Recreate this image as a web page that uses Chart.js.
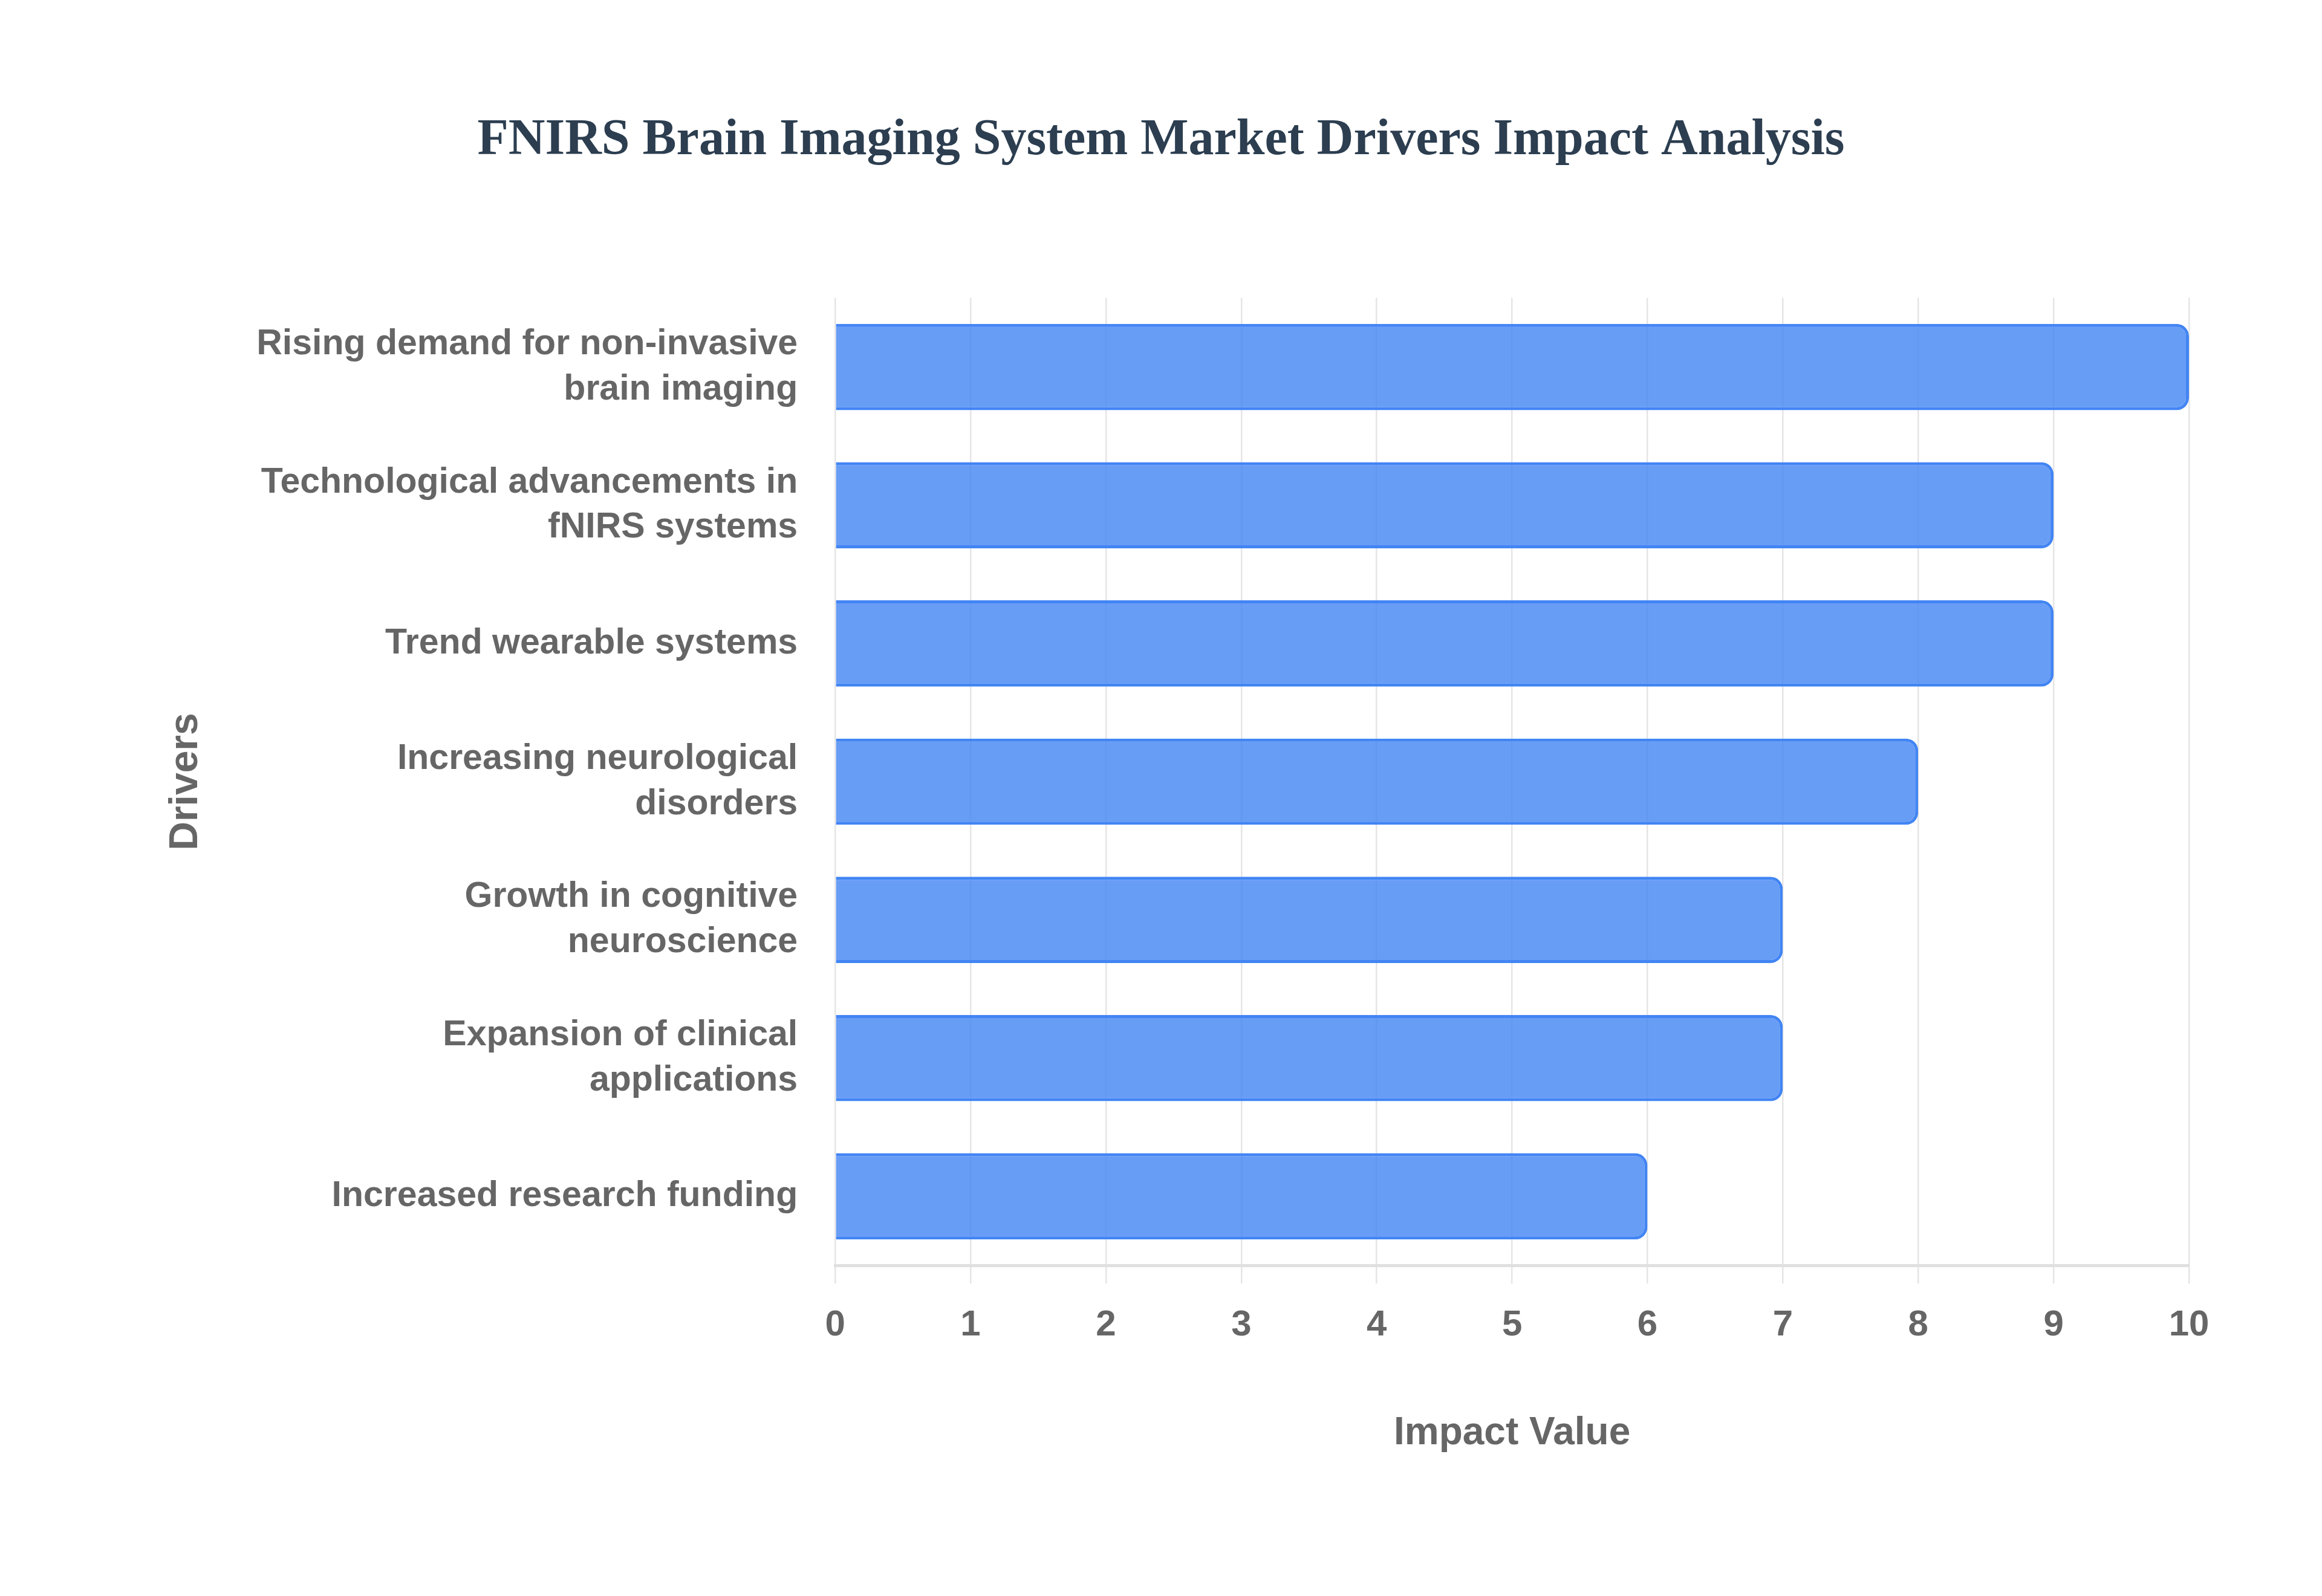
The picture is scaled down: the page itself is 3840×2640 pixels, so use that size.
<!DOCTYPE html>
<html>
<head>
<meta charset="utf-8">
<script src="https://cdn.jsdelivr.net/npm/chart.js@4.4.0/dist/chart.umd.min.js"></script>
<style>
  html, body { margin: 0; padding: 0; background: #ffffff; }
  #wrap { width: 3840px; height: 2640px; }
</style>
</head>
<body>
<div id="wrap"><canvas id="c" width="3840" height="2640"></canvas></div>
<script>
const chartTitle = "FNIRS Brain Imaging System Market Drivers Impact Analysis";
const categories = [
  ["Rising demand for non-invasive", "brain imaging"],
  ["Technological advancements in", "fNIRS systems"],
  "Trend wearable systems",
  ["Increasing neurological", "disorders"],
  ["Growth in cognitive", "neuroscience"],
  ["Expansion of clinical", "applications"],
  "Increased research funding"
];
const impactValues = [10, 9, 9, 8, 7, 7, 6];
const xAxisTitle = "Impact Value";
const yAxisTitle = "Drivers";
const xMin = 0, xMax = 10, xStep = 1;

const ctx = document.getElementById('c').getContext('2d');
new Chart(ctx, {
  type: 'bar',
  data: {
    labels: categories,
    datasets: [{
      label: 'Impact Value',
      data: impactValues,
      backgroundColor: 'rgba(66,133,244,0.8)',
      borderColor: '#4285f4',
      borderWidth: 5,
      borderRadius: 20,
      barPercentage: 0.78,
      categoryPercentage: 0.8
    }]
  },
  options: {
    indexAxis: 'y',
    responsive: false,
    devicePixelRatio: 1,
    animation: false,
    layout: { padding: { left: 220, right: 220, top: 0, bottom: 210 } },
    plugins: {
      legend: { display: false },
      tooltip: { enabled: false },
      title: {
        display: true,
        text: chartTitle,
        color: '#2c3e50',
        font: { family: "'Liberation Serif', 'Times New Roman', serif", size: 84, weight: 'bold' },
        padding: { top: 183, bottom: 209 }
      }
    },
    scales: {
      x: {
        min: xMin, max: xMax,
        ticks: {
          stepSize: xStep,
          color: '#666666',
          padding: 33,
          font: { family: "'Liberation Sans', Arial, sans-serif", size: 60, weight: 'bold' }
        },
        grid: { color: 'rgba(0,0,0,0.1)', lineWidth: 2.5, tickLength: 30 },
        border: { display: true, color: 'rgba(0,0,0,0.12)', width: 5 },
        title: {
          display: true, text: xAxisTitle, color: '#666666',
          font: { family: "'Liberation Sans', Arial, sans-serif", size: 64, weight: 'bold' },
          padding: { top: 72, bottom: 20 }
        }
      },
      y: {
        ticks: {
          color: '#666666',
          padding: 54,
          font: { family: "'Liberation Sans', Arial, sans-serif", size: 59, weight: 'bold', lineHeight: 1.27 }
        },
        grid: { display: false },
        border: { display: false },
        title: {
          display: true, text: yAxisTitle, color: '#666666',
          font: { family: "'Liberation Sans', Arial, sans-serif", size: 66, weight: 'bold' },
          padding: { top: 48, bottom: 23 }
        }
      }
    }
  }
});
</script>
</body>
</html>
